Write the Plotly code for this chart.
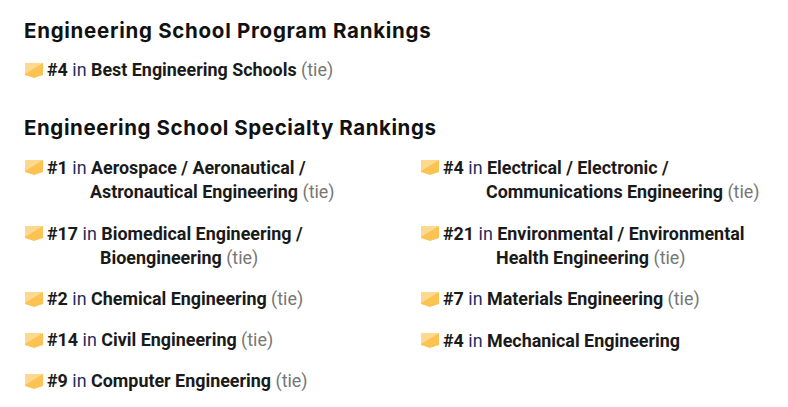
import plotly.graph_objects as go

headings = ["Engineering School Program Rankings", "Engineering School Specialty Rankings"]

program_rank = "#4"
program_name = "Best Engineering Schools"
program_tie = True

left_ranks = ["#1", "#17", "#2", "#14", "#9"]
left_names = [
    ["Aerospace / Aeronautical /", "Astronautical Engineering"],
    ["Biomedical Engineering /", "Bioengineering"],
    ["Chemical Engineering"],
    ["Civil Engineering"],
    ["Computer Engineering"],
]
left_ties = [True, True, True, True, True]

right_ranks = ["#4", "#21", "#7", "#4"]
right_names = [
    ["Electrical / Electronic /", "Communications Engineering"],
    ["Environmental / Environmental", "Health Engineering"],
    ["Materials Engineering"],
    ["Mechanical Engineering"],
]
right_ties = [True, True, True, False]

W, H = 788, 407
BODY = "Roboto"
HEAD = "Inter"
DARK = "#1a1a1a"
NAVY = "#1f2d5c"
GREY = "#767676"

fig = go.Figure()


def add_text(x, y, s, font, size, color=DARK):
    fig.add_annotation(x=x, y=y, text=s, showarrow=False, xanchor="left", yanchor="middle",
                       xref="x", yref="y", align="left", borderpad=0,
                       font=dict(family=font, size=size, color=color))


def add_badge(x, y):
    # little shield, lighter triangle on the upper left
    fig.add_shape(type="path", line_width=0, fillcolor="#fcc352",
                  path=f"M{x+1},{y-7} L{x+19},{y-7} L{x+19},{y+5} L{x+10},{y+8} L{x+1},{y+5} Z")
    fig.add_shape(type="path", line_width=0, fillcolor="#fdd88f",
                  path=f"M{x+1},{y-7} L{x+19},{y-7} L{x+1},{y+4} Z")


def add_row(x, y, rank, names, tie, indent):
    add_badge(x, y)
    tail = f' <span style="color:{GREY}">(tie)</span>'
    add_text(x + 22, y, f'<b>{rank}</b> <span style="color:{NAVY}">in</span> <b>{names[0]}</b>'
             + (tail if tie and len(names) == 1 else ""), BODY, 17.9)
    if len(names) > 1:
        add_text(x + indent, y + 25, f"<b>{names[1]}</b>" + (tail if tie else ""), BODY, 17.9)


def add_heading(y, s, spacing):
    add_text(23, y, f'<b><span style="letter-spacing:{spacing}px">{s}</span></b>', HEAD, 20.5, "#111111")


add_heading(30, headings[0], 0.72)
add_heading(127, headings[1], 0.58)
add_row(24, 70, program_rank, [program_name], program_tie, 65)

row_y = [167, 233, 299, 340, 381]
indents = [65, 75]
for i in range(len(left_ranks)):
    add_row(24, row_y[i], left_ranks[i], left_names[i], left_ties[i], indents[i] if i < 2 else 0)
for i in range(len(right_ranks)):
    add_row(420, row_y[i], right_ranks[i], right_names[i], right_ties[i], indents[i] if i < 2 else 0)

fig.update_layout(width=W, height=H, margin=dict(l=0, r=0, t=0, b=0),
                  paper_bgcolor="white", plot_bgcolor="white", showlegend=False)
fig.update_xaxes(range=[0, W], visible=False, fixedrange=True)
fig.update_yaxes(range=[H, 0], visible=False, fixedrange=True)

fig.write_html("out.html", config={"displayModeBar": False},
               post_script="document.body.style.margin='0';")
